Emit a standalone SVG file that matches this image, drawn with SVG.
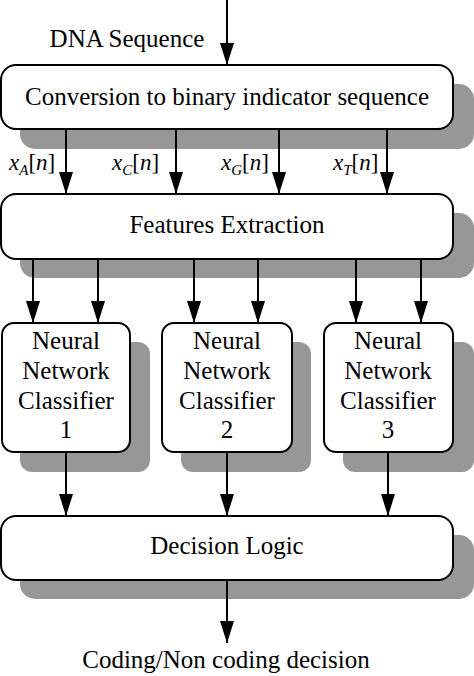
<svg xmlns="http://www.w3.org/2000/svg" width="474" height="676" viewBox="0 0 474 676">
<style>
.box{fill:#fff;stroke:#000;stroke-width:2}
.sh{fill:#979797}
text{font-family:'Liberation Serif','Times New Roman',serif;fill:#000}
.t{font-size:25px;text-anchor:middle}
.lbl{font-size:23px}
.i{font-style:italic}
.sub{font-style:italic;font-size:15px}
.c{stroke:#000;stroke-width:2;fill:none;marker-end:url(#ah)}
</style>
<defs>
<marker id="ah" markerUnits="userSpaceOnUse" markerWidth="14" markerHeight="22" refX="7" refY="22" orient="0" viewBox="0 0 14 22">
<path d="M0,0 L14,0 L7,22 Z" fill="#000"/>
</marker>
</defs>
<rect width="474" height="676" fill="#fff"/>
<g id="conversion">
<rect class="sh" x="20" y="84" width="454" height="65" rx="15"/>
<rect class="box" x="1" y="65" width="452" height="64" rx="15"/>
<text class="t" x="227" y="105" textLength="404" lengthAdjust="spacingAndGlyphs">Conversion to binary indicator sequence</text>
</g>
<g id="features">
<rect class="sh" x="20" y="213" width="454" height="65" rx="15"/>
<rect class="box" x="1" y="194" width="452" height="65" rx="15"/>
<text class="t" x="227" y="233">Features Extraction</text>
</g>
<g id="nn1">
<rect class="sh" x="20" y="342" width="130" height="130" rx="12"/>
<rect class="box" x="2" y="323" width="128" height="129" rx="12"/>
<text class="t" x="66" y="349">Neural</text>
<text class="t" x="66" y="379">Network</text>
<text class="t" x="66" y="409">Classifier</text>
<text class="t" x="66" y="438">1</text>
</g>
<g id="nn2">
<rect class="sh" x="181" y="342" width="130" height="130" rx="12"/>
<rect class="box" x="162" y="323" width="130" height="129" rx="12"/>
<text class="t" x="227" y="349">Neural</text>
<text class="t" x="227" y="379">Network</text>
<text class="t" x="227" y="409">Classifier</text>
<text class="t" x="227" y="438">2</text>
</g>
<g id="nn3">
<rect class="sh" x="343" y="342" width="131" height="130" rx="12"/>
<rect class="box" x="324" y="323" width="129" height="129" rx="12"/>
<text class="t" x="388" y="349">Neural</text>
<text class="t" x="388" y="379">Network</text>
<text class="t" x="388" y="409">Classifier</text>
<text class="t" x="388" y="438">3</text>
</g>
<g id="decision">
<rect class="sh" x="20" y="535" width="454" height="64" rx="15"/>
<rect class="box" x="1" y="516" width="452" height="64" rx="15"/>
<text class="t" x="227" y="554">Decision Logic</text>
</g>
<g id="connectors">
<line class="c" x1="227" y1="0" x2="227" y2="65"/>
<line class="c" x1="66" y1="129" x2="66" y2="194"/>
<line class="c" x1="176" y1="129" x2="176" y2="194"/>
<line class="c" x1="279" y1="129" x2="279" y2="194"/>
<line class="c" x1="387" y1="129" x2="387" y2="194"/>
<line class="c" x1="33" y1="259" x2="33" y2="323"/>
<line class="c" x1="98" y1="259" x2="98" y2="323"/>
<line class="c" x1="194" y1="259" x2="194" y2="323"/>
<line class="c" x1="258" y1="259" x2="258" y2="323"/>
<line class="c" x1="356" y1="259" x2="356" y2="323"/>
<line class="c" x1="421" y1="259" x2="421" y2="323"/>
<line class="c" x1="66" y1="452" x2="66" y2="516"/>
<line class="c" x1="227" y1="452" x2="227" y2="516"/>
<line class="c" x1="388" y1="452" x2="388" y2="516"/>
<line class="c" x1="227" y1="580" x2="227" y2="643"/>
</g>
<g id="labels">
<text class="t" x="127" y="47">DNA Sequence</text>
<text class="lbl" x="9" y="170"><tspan class="i">x</tspan><tspan class="sub" dy="5">A</tspan><tspan dy="-5">[</tspan><tspan class="i">n</tspan>]</text>
<text class="lbl" x="112" y="170"><tspan class="i">x</tspan><tspan class="sub" dy="5">C</tspan><tspan dy="-5">[</tspan><tspan class="i">n</tspan>]</text>
<text class="lbl" x="221" y="170"><tspan class="i">x</tspan><tspan class="sub" dy="5">G</tspan><tspan dy="-5">[</tspan><tspan class="i">n</tspan>]</text>
<text class="lbl" x="333" y="170"><tspan class="i">x</tspan><tspan class="sub" dy="5">T</tspan><tspan dy="-5">[</tspan><tspan class="i">n</tspan>]</text>
<text class="t" x="226" y="668">Coding/Non coding decision</text>
</g>
</svg>
